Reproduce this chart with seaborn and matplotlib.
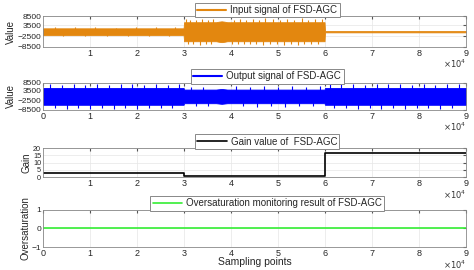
import numpy as np
import matplotlib
matplotlib.use("Agg")
import matplotlib.pyplot as plt
import seaborn as sns
from matplotlib.ticker import FixedLocator, FuncFormatter

# -------------------------
# Data
# -------------------------
# envelope (half amplitude) of the input signal
in_env_x = [0, 29900, 30000, 36800, 37400, 38000, 38600, 39200, 59900, 60000, 90000]
in_env_y = [1900, 1900, 5300, 5300, 5600, 5800, 5600, 5300, 5300, 350, 350]
# spikes poking out of the input band (x, top) and (x, bottom)
in_top_x = [2500, 6800, 11000, 15500, 19800, 24000, 28000,
            30400, 31300, 32600, 33900, 35100, 36200, 40600, 41900, 43100, 44600,
            46000, 47300, 49000, 50400, 52000, 53400, 55000, 56300, 57800, 59300]
in_top_y = [2500, 2400, 2600, 2300, 2500, 2400, 2600,
            7200, 6800, 6500, 7300, 6600, 6900, 6700, 7300, 6600, 7000,
            6800, 7400, 6900, 6600, 7100, 6700, 7500, 6800, 7300, 6900]
in_bot_x = [4200, 9000, 13500, 18000, 22500, 26800,
            30800, 32000, 33300, 34600, 35800, 40200, 41400, 42700, 44000, 45400,
            46800, 48200, 49700, 51200, 52700, 54200, 55600, 57100, 58600]
in_bot_y = [2400, 2500, 2300, 2600, 2400, 2500,
            7000, 6600, 7300, 6700, 6900, 6600, 7100, 6800, 7000, 6600,
            7300, 6900, 6700, 7200, 6800, 7400, 6900, 7100, 6700]

# envelope of the output signal
out_env_x = [0, 29900, 30000, 36800, 37400, 38000, 38600, 39200, 59900, 60000, 90000]
out_env_y = [5300, 5300, 4300, 4300, 4500, 4700, 4500, 4300, 4300, 5300, 5300]
out_top_x = [1500, 4000, 6500, 9000, 11500, 14000, 16500, 19000, 21500, 24000, 26500, 29000,
             31500, 34000, 41000, 44000, 47000, 50000, 53000, 56000, 59000,
             61000, 63500, 66000, 68500, 71000, 73500, 76000, 78500, 81000, 83500, 86000, 88500]
out_top_y = [7600, 7200, 7900, 7400, 7700, 7300, 7800, 7500, 7200, 7700, 7400, 7800,
             6200, 5800, 6300, 5900, 6500, 6000, 6400, 5900, 6300,
             7900, 7500, 7800, 7300, 7700, 7600, 7900, 7400, 7800, 7300, 7700, 7500]
out_bot_x = [2500, 5000, 7500, 10000, 12500, 15000, 17500, 20000, 22500, 25000, 27500,
             32500, 35000, 42500, 45500, 48500, 51500, 54500, 57500,
             62000, 64500, 67000, 69500, 72000, 74500, 77000, 79500, 82000, 84500, 87000]
out_bot_y = [7500, 7800, 7300, 7700, 7600, 7900, 7400, 7800, 7300, 7600, 7500,
             5900, 6300, 6000, 6400, 5800, 6500, 6000, 6300,
             7600, 7300, 7800, 7500, 7700, 7300, 7900, 7400, 7600, 7800, 7400]

gain_x = [0, 30000, 60000, 90000]
gain_y = [3.0, 0.5, 16.5, 16.5]

over_x = [0, 90000]
over_y = [0, 0]

orange = "#E3870F"
blue = "#0000FF"
green = "#33EE33"

sns.set_style("whitegrid")
plt.rcParams["font.family"] = ["Liberation Sans", "DejaVu Sans"]

fig = plt.figure(figsize=(4.74, 2.70), dpi=100)
boxes = [
    [0.091, 0.826, 0.892, 0.113],
    [0.091, 0.593, 0.892, 0.100],
    [0.091, 0.344, 0.892, 0.107],
    [0.091, 0.084, 0.892, 0.140],
]
axes = [fig.add_axes(b) for b in boxes]


def style_axis(ax, ylabel, yticks, ylim, show_zero):
    ax.set_xlim(0, 90000)
    ax.set_ylim(*ylim)
    ticks = list(range(0, 90001, 10000)) if show_zero else list(range(10000, 90001, 10000))
    ax.xaxis.set_major_locator(FixedLocator(ticks))
    ax.xaxis.set_major_formatter(FuncFormatter(lambda v, p: f"{v / 1e4:g}"))
    # matlab-style exponent under the right end
    ax.annotate(r"$\times10^{4}$", xy=(1, 0), xycoords="axes fraction",
                xytext=(0, -8), textcoords="offset points",
                ha="right", va="top", fontsize=6, color="#333333")
    ax.set_yticks(yticks)
    ax.set_ylabel(ylabel, fontsize=7, labelpad=1)
    ax.tick_params(axis="x", labelsize=6.5, pad=1.5)
    ax.tick_params(axis="y", labelsize=6, pad=1.5)
    ax.tick_params(axis="both", direction="in", length=2,
                   top=True, right=True, color="#555555")
    ax.grid(True, color="#E6E6E6", linewidth=0.5)
    for s in ax.spines.values():
        s.set_color("#888888")
        s.set_linewidth(0.6)


def add_legend(ax):
    leg = ax.legend(loc="lower center", bbox_to_anchor=(0.53, 0.97), fontsize=7,
                    handlelength=3, borderpad=0.25, fancybox=False, framealpha=1,
                    handletextpad=0.4, borderaxespad=0)
    leg.get_frame().set_edgecolor("#888888")
    leg.get_frame().set_linewidth(0.7)
    return leg


# input signal
ax = axes[0]
ein = np.array(in_env_y)
ax.fill_between(in_env_x, -ein, ein, color=orange, linewidth=0.6, edgecolor=orange)
ax.vlines(in_top_x, 0, in_top_y, color=orange, linewidth=0.8)
ax.vlines(in_bot_x, [-v for v in in_bot_y], 0, color=orange, linewidth=0.8)
ax.plot([], [], color=orange, label="Input signal of FSD-AGC")
style_axis(ax, "Value", [-8500, -2500, 3500, 8500], (-8500, 8500), False)
add_legend(ax)

# output signal
ax = axes[1]
eout = np.array(out_env_y)
ax.fill_between(out_env_x, -eout, eout, color=blue, linewidth=0.6, edgecolor=blue)
ax.vlines(out_top_x, 0, out_top_y, color=blue, linewidth=0.8)
ax.vlines(out_bot_x, [-v for v in out_bot_y], 0, color=blue, linewidth=0.8)
ax.plot([], [], color=blue, label="Output signal of FSD-AGC")
style_axis(ax, "Value", [-8500, -2500, 3500, 8500], (-8500, 8500), True)
add_legend(ax)

# gain
ax = axes[2]
sns.lineplot(x=gain_x, y=gain_y, ax=ax, color="black", linewidth=1.2,
             drawstyle="steps-post", label="Gain value of  FSD-AGC")
style_axis(ax, "Gain", [0, 5, 10, 15, 20], (0, 20), False)
ax.tick_params(axis="y", labelsize=5.2)
add_legend(ax)

# oversaturation
ax = axes[3]
sns.lineplot(x=over_x, y=over_y, ax=ax, color=green, linewidth=1.2,
             label="Oversaturation monitoring result of FSD-AGC")
style_axis(ax, "Oversaturation", [-1, 0, 1], (-1, 1), True)
ax.set_xlabel("Sampling points", fontsize=7.5, labelpad=-1)
add_legend(ax)

fig.savefig("out.png", dpi=100)
